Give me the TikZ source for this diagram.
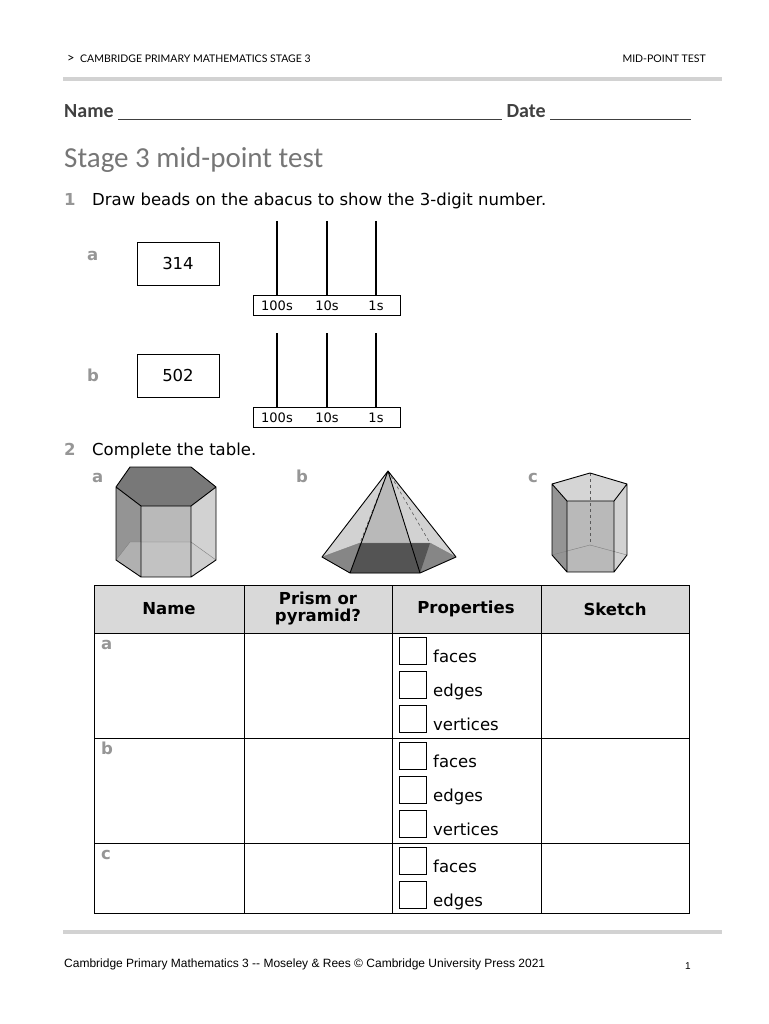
\documentclass[tikz,border=0pt]{standalone}
\usepackage{fontspec}
\setmainfont{DejaVu Sans}
\newfontfamily\headfont{Lato}
\newfontfamily\titlefont{Carlito}
\newfontfamily\footfont{Liberation Sans}
\usetikzlibrary{positioning, calc}
\definecolor{qgrey}{RGB}{150,150,150}
\definecolor{titlegrey}{RGB}{118,118,118}
\definecolor{headfill}{RGB}{217,217,217}
\definecolor{solidA}{RGB}{120,120,120}
\definecolor{solidB}{RGB}{185,185,185}
\definecolor{solidC}{RGB}{210,210,210}

\tikzset{
  body/.style={anchor=base west, inner sep=0pt, font=\fontsize{16.5}{19}\selectfont},
  qnum/.style={anchor=base west, inner sep=0pt, text=qgrey, font=\fontsize{16.5}{19}\selectfont\bfseries},
  numbox/.style={draw, line width=0.8pt, minimum width=82pt, minimum height=43pt, font=\fontsize{16.5}{19}\selectfont},
  rod/.style={line width=1.6pt},
  place/.style={font=\fontsize{13}{15}\selectfont, inner sep=0pt, anchor=base},
  edge/.style={line width=0.9pt},
  hidden/.style={line width=0.6pt, dashed, gray!70!black},
  tick/.style={draw, line width=0.7pt, minimum size=27pt, inner sep=0pt},
  shadow/.style={line width=4pt, gray!35},
}

\begin{document}
\begin{tikzpicture}[x=1pt, y=-1pt]
  \useasboundingbox (0,0) rectangle (768,1024);

  % Header
  \node[anchor=base west, inner sep=0pt, font=\headfont\fontsize{13}{15}\selectfont] (chev) at (67,63) {\textgreater};
  \node[anchor=base west, inner sep=0pt, font=\headfont\fontsize{10.5}{12}\selectfont] (series) at (80,63) {CAMBRIDGE PRIMARY MATHEMATICS STAGE 3};
  \node[anchor=base east, inner sep=0pt, font=\headfont\fontsize{10.5}{12}\selectfont] (testname) at (706,63) {MID-POINT TEST};
  \draw[shadow] (63,79) -- (722,79);

  % Name and date
  \node[anchor=base west, inner sep=0pt, font=\titlefont\bfseries\fontsize{20}{24}\selectfont, text=black!75] (namefield) at (64,118)
    {Name \rule[-2pt]{384pt}{0.9pt} Date \rule[-2pt]{141pt}{0.9pt}};
  \node[anchor=base west, inner sep=0pt, font=\titlefont\fontsize{29}{34}\selectfont, text=titlegrey] (title) at (64,168) {Stage 3 mid-point test};

  % Question 1
  \node[qnum] (q1) at (64,206) {1};
  \node[body] (q1text) at (92,206) {Draw beads on the abacus to show the 3-digit number.};
  \node[qnum] (q1a) at (87,260) {a};
  \node[numbox] (boxa) at (178,263.5) {314};
  \node[qnum] (q1b) at (87,381) {b};
  \node[numbox] (boxb) at (178,375.5) {502};

  \foreach \top/\bar/\nm in {221/295/a, 333/407/b}{
    \draw[line width=0.8pt] (253,\bar) rectangle (400,\bar+20);
    \foreach \x/\lab in {277/100s, 327/10s, 376/1s}{
      \draw[rod] (\x,\top) -- (\x,\bar);
      \node[place] (lab\nm\lab) at (\x,\bar+15) {\lab};
    }
  }

  % Question 2
  \node[qnum] (q2) at (64,455) {2};
  \node[body] (q2text) at (92,455) {Complete the table.};
  \node[qnum] (q2a) at (92,482) {a};
  \node[qnum] (q2b) at (296,482) {b};
  \node[qnum] (q2c) at (528,482) {c};

  % Hexagonal prism
  \fill[solidC] (191,506) -- (216,487) -- (216,560) -- (191,577) -- cycle;
  \fill[solidB!80!black] (116,487) -- (141,506) -- (141,577) -- (116,560) -- cycle;
  \fill[solidB] (141,506) rectangle (191,577);
  \fill[solidA] (116,487) -- (130,467) -- (191,467) -- (216,487) -- (191,506) -- (141,506) -- cycle;
  \fill[gray!40, opacity=0.5] (116,560) -- (130,542) -- (191,542) -- (216,560) -- (191,577) -- (141,577) -- cycle;
  \draw[line width=0.4pt, gray] (116,560) -- (130,542) -- (191,542) -- (216,560);
  \draw[edge, line join=round] (116,487) -- (130,467) -- (191,467) -- (216,487) -- (191,506) -- (141,506) -- cycle
    (116,487) -- (116,560) -- (141,577) -- (191,577) -- (216,560) -- (216,487)
    (141,506) -- (141,577) (191,506) -- (191,577);

  % Hexagonal pyramid
  \fill[solidC] (388,471) -- (322,557) -- (456,557) -- cycle;
  \fill[solidB] (388,471) -- (350,573) -- (420,573) -- cycle;
  \fill[solidA!90] (322,557) -- (360,543) -- (430,543) -- (456,557) -- (420,573) -- (350,573) -- cycle;
  \fill[solidA!70!black] (350,573) -- (360,543) -- (430,543) -- (420,573) -- cycle;
  \draw[hidden] (388,471) -- (360,543) (388,471) -- (430,543);
  \draw[line width=0.4pt, gray] (322,557) -- (360,543) -- (430,543) -- (456,557);
  \draw[edge, line join=round] (388,471) -- (322,557) -- (350,573) -- (420,573) -- (456,557) -- cycle
    (388,471) -- (350,573) (388,471) -- (420,573);

  % Pentagonal prism
  \fill[solidC] (552,484) -- (590,473) -- (627,484) -- (627,555) -- (614,572) -- (567,572) -- (552,555) -- cycle;
  \fill[solidB] (567,501) rectangle (614,572);
  \fill[solidB!80!black] (552,484) -- (567,501) -- (567,572) -- (552,555) -- cycle;
  \fill[solidB!60] (552,484) -- (590,473) -- (627,484) -- (614,501) -- (567,501) -- cycle;
  \draw[hidden] (590,473) -- (590,545);
  \draw[line width=0.4pt, gray] (552,555) -- (590,545) -- (627,555);
  \draw[edge, line join=round] (552,484) -- (590,473) -- (627,484) -- (614,501) -- (567,501) -- cycle
    (552,484) -- (552,555) -- (567,572) -- (614,572) -- (627,555) -- (627,484)
    (567,501) -- (567,572) (614,501) -- (614,572);

  % Table
  \fill[headfill] (94,585) rectangle (689,633);
  \draw[line width=0.8pt] (94,913) -- (94,585) -- (689,585) -- (689,913) -- cycle;
  \foreach \x in {244,392,541}
    \draw[line width=0.8pt] (\x,585) -- (\x,913);
  \foreach \y in {633,738,843}
    \draw[line width=0.8pt] (94,\y) -- (689,\y);
  \node[font=\fontsize{16.5}{19}\selectfont\bfseries] (hname) at (169,609) {Name};
  \node[font=\fontsize{16.5}{17}\selectfont\bfseries, align=center] (htype) at (318,609) {Prism or\\pyramid?};
  \node[font=\fontsize{16.5}{19}\selectfont\bfseries] (hprop) at (466,609) {Properties};
  \node[font=\fontsize{16.5}{19}\selectfont\bfseries] (hsketch) at (615,609) {Sketch};

  \foreach \row/\y in {a/633, b/738}{
    \node[qnum] (row\row) at (101,\y+16) {\row};
    \foreach \k/\word in {0/faces, 1/edges, 2/vertices}{
      \node[tick] (box\row\k) at (413,\y+17.5+34*\k) {};
      \node[body] (word\row\k) at (433,\y+29+34*\k) {\word};
    }
  }
  \node[qnum] (rowc) at (101,859) {c};
  \foreach \k/\word in {0/faces, 1/edges}{
    \node[tick] (boxc\k) at (413,860.5+34*\k) {};
    \node[body] (wordc\k) at (433,872+34*\k) {\word};
  }

  % Footer
  \draw[shadow] (63,932) -- (722,932);
  \node[anchor=base west, inner sep=0pt, font=\footfont\fontsize{12}{14}\selectfont] (credit) at (64,967)
    {Cambridge Primary Mathematics 3 -- Moseley \& Rees \textcopyright{} Cambridge University Press 2021};
  \node[anchor=base, inner sep=0pt, font=\footfont\fontsize{10}{12}\selectfont] (page) at (688,969) {1};
\end{tikzpicture}
\end{document}
